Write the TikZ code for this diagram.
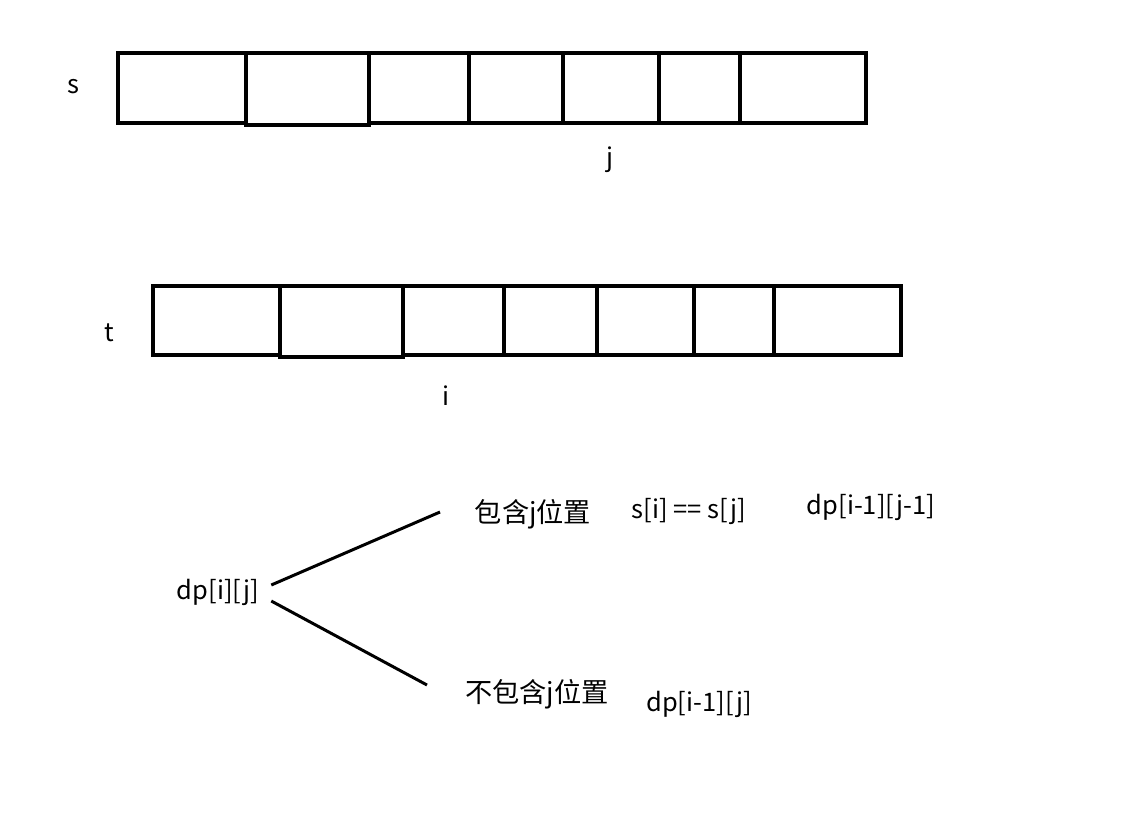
\documentclass[tikz,border=0pt]{standalone}
\usepackage{fontspec}
\setmainfont{Noto Sans CJK SC}
\usetikzlibrary{positioning}

\tikzset{
  cellline/.style = {line width=1.8pt, draw=black},
  label/.style    = {font=\fontsize{14.5}{17}\selectfont, inner sep=1pt},
  case/.style     = {font=\fontsize{15.5}{18}\selectfont, inner sep=1pt},
  branch/.style   = {line width=1.7pt, draw=black},
}

\begin{document}
\begin{tikzpicture}[x=0.02cm, y=-0.02cm]
\useasboundingbox (0,0) rectangle (1135,826);

% string s
\foreach \xa/\xb in {118/246, 369/469, 469/563, 563/659, 659/740, 740/866}
  \draw[cellline] (\xa,53) rectangle (\xb,123);
\draw[cellline] (246,53) rectangle (369,125);
\node[label] (sname) at (73,87) {s};
\node[label] (jpos) at (610,160) {j};

% string t
\foreach \xa/\xb in {153/280, 403/504, 504/597, 597/694, 694/774, 774/901}
  \draw[cellline] (\xa,286) rectangle (\xb,355);
\draw[cellline] (280,286) rectangle (403,357);
\node[label] (tname) at (109,333) {t};
\node[label] (ipos) at (446,396) {i};

% dp cases
\node[label] (dp) at (218,592) {dp[i][j]};
\coordinate (upend) at (440,512);
\coordinate (downend) at (427,685);
\draw[branch] ([shift={(10,-7)}]dp.east) -- (upend);
\draw[branch] ([shift={(10,9)}]dp.east) -- (downend);

\node[case] (incl) at (533,514) {包含j位置};
\node[label] (cond) at (689,511) {s[i] == s[j]};
\node[label] (inclval) at (871,507) {dp[i-1][j-1]};
\node[case] (excl) at (537,694) {不包含j位置};
\node[label] (exclval) at (699,704) {dp[i-1][j]};
\end{tikzpicture}
\end{document}
